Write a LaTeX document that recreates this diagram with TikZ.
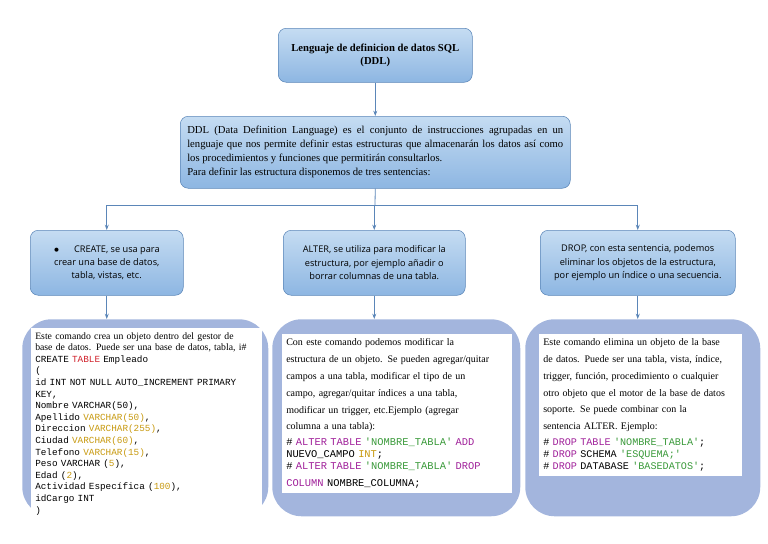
\documentclass[tikz,border=0pt]{standalone}
\usepackage{fontspec}
\usetikzlibrary{arrows.meta}
\setmainfont{Liberation Serif}
\newfontfamily\boxsans{Open Sans}
\setmonofont{Liberation Mono}
\definecolor{boxtop}{HTML}{C5DCF2}
\definecolor{boxbot}{HTML}{8DB6E2}
\definecolor{boxline}{HTML}{5B86B8}
\definecolor{panel}{HTML}{A3B5DD}
\definecolor{kwred}{HTML}{D0202A}
\definecolor{kwyel}{HTML}{C89A10}
\definecolor{kwmag}{HTML}{A0209A}
\definecolor{kwgrn}{HTML}{3A9A3A}
\begin{document}
\begin{tikzpicture}[x=0.75pt,y=-0.75pt,
  bluebox/.style={draw=boxline,rounded corners=6pt,top color=boxtop,bottom color=boxbot,
    inner sep=0pt,anchor=north west},
  panel/.style={fill=panel,rounded corners=22pt,anchor=north west,inner sep=0pt},
  inner/.style={fill=white,anchor=north west,inner sep=3pt,align=left},
  cmd/.style={font=\boxsans\fontsize{6.9}{10}\selectfont,align=center},
  conn/.style={draw=boxline,line width=0.6pt},
  arr/.style={conn,-{Stealth[length=4pt]}}]
\useasboundingbox (0,0) rectangle (768,543);
% top boxes
\node[bluebox,minimum width=145.5pt,minimum height=40.5pt] (title) at (278,28) {};
\node[font=\bfseries\fontsize{8}{10}\selectfont,align=center] at (title.center) {Lenguaje de definicion de datos SQL\\(DDL)};
\node[bluebox,minimum width=292.5pt,minimum height=54pt] (ddl) at (180,116) {};
\node[text width=282pt,align=justify,font=\fontsize{8}{10.5}\selectfont] at (ddl.center)
 {DDL (Data Definition Language) es el conjunto de instrucciones agrupadas en un lenguaje que nos permite definir estas estructuras que almacenarán los datos así como los procedimientos y funciones que permitirán consultarlos.\newline Para definir las estructura disponemos de tres sentencias:};
\draw[arr] (title.south) -- (ddl.north);
% three command boxes
\node[bluebox,minimum width=114.75pt,minimum height=48.75pt] (create) at (30,230) {};
\node[bluebox,minimum width=136.5pt,minimum height=48.75pt] (alter) at (283,230) {};
\node[bluebox,minimum width=146.25pt,minimum height=48.75pt] (drop) at (540,230) {};
\node[cmd] at (create.center)
 {$\bullet$\hspace{1.6em}CREATE, se usa para\\crear una base de datos,\\tabla, vistas, etc.};
\node[cmd] at (alter.center)
 {ALTER, se utiliza para modificar la\\estructura, por ejemplo añadir o\\borrar columnas de una tabla.};
\node[cmd] at (drop.center)
 {DROP, con esta sentencia, podemos\\eliminar los objetos de la estructura,\\por ejemplo un índice o una secuencia.};
\coordinate (split) at (375,205);
\coordinate (hl) at (create.north |- split);
\coordinate (hr) at (drop.north |- split);
\draw[conn] (ddl.south) -- (split);
\draw[conn] (hl) -- (hr);
\draw[arr] (hl) -- (create.north);
\draw[arr] (split -| alter.north) -- (alter.north);
\draw[arr] (hr) -- (drop.north);
% panels
\node[panel,minimum width=184.5pt,minimum height=147.75pt] (p1) at (22,319) {};
\node[panel,minimum width=186pt,minimum height=147.75pt] (p2) at (272,319) {};
\node[panel,minimum width=176.25pt,minimum height=147.75pt] (p3) at (525,319) {};
\draw[arr] (create.south) -- (p1.north -| create.south);
\draw[arr] (alter.south) -- (p2.north -| alter.south);
\draw[arr] (drop.south) -- (p3.north -| drop.south);
\node[inner,text width=167pt,font=\fontsize{7.3}{8.7}\selectfont] (t1) at (31,328)
 {Este comando crea un objeto dentro del gestor de\\ base de datos. Puede ser una base de datos, tabla, i\#\\
 \ttfamily\fontsize{7}{8.7}\selectfont CREATE \textcolor{kwred}{TABLE} Empleado\\
 (\\ id INT NOT NULL AUTO\_INCREMENT PRIMARY\\ KEY,\\
 Nombre VARCHAR(50),\\
 Apellido \textcolor{kwyel}{VARCHAR(50)},\\
 Direccion \textcolor{kwyel}{VARCHAR(255)},\\
 Ciudad \textcolor{kwyel}{VARCHAR(60)},\\
 Telefono \textcolor{kwyel}{VARCHAR(15)},\\
 Peso VARCHAR (\textcolor{kwyel}{5}),\\
 Edad (\textcolor{kwyel}{2}),\\
 Actividad Específica (\textcolor{kwyel}{100}),\\
 idCargo INT\\ )};
\node[inner,text width=166pt,font=\fontsize{7.5}{12.7}\selectfont] (t2) at (282,334)
 {Con este comando podemos modificar la\\ estructura de un objeto. Se pueden agregar/quitar\\ campos a una tabla, modificar el tipo de un\\ campo, agregar/quitar índices a una tabla,\\ modificar un trigger, etc.Ejemplo (agregar\\ columna a una tabla):\\[3pt]
 \ttfamily\fontsize{7.8}{9}\selectfont \# \textcolor{kwmag}{ALTER TABLE} \textcolor{kwgrn}{'NOMBRE\_TABLA'} \textcolor{kwmag}{ADD}\\
 NUEVO\_CAMPO \textcolor{kwyel}{INT};\\
 \# \textcolor{kwmag}{ALTER TABLE} \textcolor{kwgrn}{'NOMBRE\_TABLA'} \textcolor{kwmag}{DROP}\\
 \textcolor{kwmag}{COLUMN} NOMBRE\_COLUMNA;};
\node[inner,text width=146pt,font=\fontsize{7.5}{12.7}\selectfont] (t3) at (539,334)
 {Este comando elimina un objeto de la base\\ de datos. Puede ser una tabla, vista, índice,\\ trigger, función, procedimiento o cualquier\\ otro objeto que el motor de la base de datos\\ soporte. Se puede combinar con la\\ sentencia ALTER. Ejemplo:\\[3pt]
 \ttfamily\fontsize{7.6}{9}\selectfont \# \textcolor{kwmag}{DROP TABLE} \textcolor{kwgrn}{'NOMBRE\_TABLA'};\\
 \# \textcolor{kwmag}{DROP} SCHEMA \textcolor{kwgrn}{'ESQUEMA;'}\\
 \# \textcolor{kwmag}{DROP} DATABASE \textcolor{kwgrn}{'BASEDATOS'};\\[10pt]};
\end{tikzpicture}
\end{document}
